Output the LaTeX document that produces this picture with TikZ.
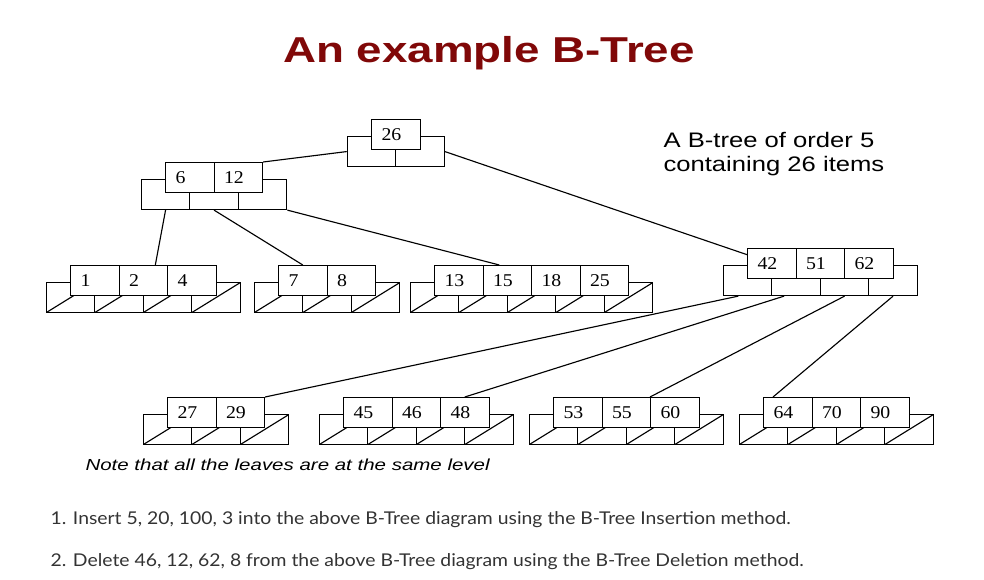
\documentclass[tikz,border=0pt]{standalone}
\usepackage{fontspec}
\setmainfont{Liberation Serif}[FakeStretch=1.1]
\newfontfamily\titlefont{Liberation Sans}[FakeStretch=1.27]
\newfontfamily\arialfont{Liberation Sans}[FakeStretch=1.22]
\newfontfamily\notefont{Liberation Sans}[FakeStretch=1.28]
\newfontfamily\latofont{Lato}[FakeStretch=1.1]
\usepackage{xcolor}
\definecolor{titlered}{RGB}{128,8,8}
\definecolor{taskgray}{RGB}{51,51,51}

% B-tree node: pointer style, name, x, y, number of keys, keys
\newcommand{\bnode}[6]{%
  \foreach \i in {0,...,#5}
    \node[#1] (#2-p\i) at ({#3-24.25+48.5*\i},{#4+17}) {};
  \foreach \k [count=\j] in {#6}
    \node[key] (#2-k\j) at ({#3+48.5*(\j-1)},#4) {\k};
}

\begin{document}
\begin{tikzpicture}[x=0.75pt, y=-0.75pt, line width=0.85pt,
    key/.style={draw, fill=white, rectangle, anchor=north west, inner xsep=7.5pt, inner ysep=0pt,
      text width=21.375pt, minimum height=22.5pt, align=left, font=\fontsize{13.5}{13.5}\selectfont},
    ptr/.style={draw, rectangle, anchor=north west, inner sep=0pt, minimum width=36.375pt, minimum height=22.5pt},
    leafptr/.style={ptr, path picture={\draw (path picture bounding box.south west) -- (path picture bounding box.north east);}}]
    \useasboundingbox (0,0) rectangle (984,580);

    \node[anchor=base, text=titlered, font=\titlefont\bfseries\fontsize{27}{27}\selectfont] (title) at (489,63) {An example B-Tree};
    \node[anchor=north west, inner sep=0pt, align=left, font=\arialfont\fontsize{15.75}{18}\selectfont] (info) at (663,132) {A B-tree of order 5\\containing 26 items};

    % inner nodes
    \bnode{ptr}{root}{371}{119}{1}{26}
    \bnode{ptr}{A}{165}{162}{2}{6,12}
    \bnode{ptr}{B}{747}{248}{3}{42,51,62}
    % leaves
    \bnode{leafptr}{L1}{70}{265}{3}{1,2,4}
    \bnode{leafptr}{L2}{278}{265}{2}{7,8}
    \bnode{leafptr}{L3}{434}{265}{4}{13,15,18,25}
    \bnode{leafptr}{L4}{167}{397}{2}{27,29}
    \bnode{leafptr}{L5}{343}{397}{3}{45,46,48}
    \bnode{leafptr}{L6}{553}{397}{3}{53,55,60}
    \bnode{leafptr}{L7}{763}{397}{3}{64,70,90}

    \draw (root-p0.west) -- (A-k2.north east);
    \draw (root-p1.east) -- ([yshift=-5pt]B-k1.north west);
    \draw (A-p0.south) -- ([xshift=9pt]L1-k2.north);
    \draw (A-p1.south) -- (L2-k1.north);
    \draw (A-p2.south east) -- ([xshift=-6pt]L3-k2.north);
    \draw ([xshift=-7pt]B-p0.south) -- (L4-k2.north east);
    \draw ([xshift=-9pt]B-p1.south) -- (L5-k3.north);
    \draw (B-p2.south) -- (L6-k3.north west);
    \draw (B-p3.south) -- ([xshift=7.5pt]L7-k1.north west);

    \node[anchor=base west, inner sep=0pt, font=\notefont\itshape\fontsize{12}{12}\selectfont] (note) at (85,470) {Note that all the leaves are at the same level};
    \node[anchor=base west, inner sep=0pt, text=taskgray, font=\latofont\fontsize{13.2}{13.2}\selectfont] (task1) at (50,524) {1. Insert 5, 20, 100, 3 into the above B-Tree diagram using the B-Tree Insertion method.};
    \node[anchor=base west, inner sep=0pt, text=taskgray, font=\latofont\fontsize{13.2}{13.2}\selectfont] (task2) at (50,566) {2. Delete 46, 12, 62, 8 from the above B-Tree diagram using the B-Tree Deletion method.};
\end{tikzpicture}
\end{document}
